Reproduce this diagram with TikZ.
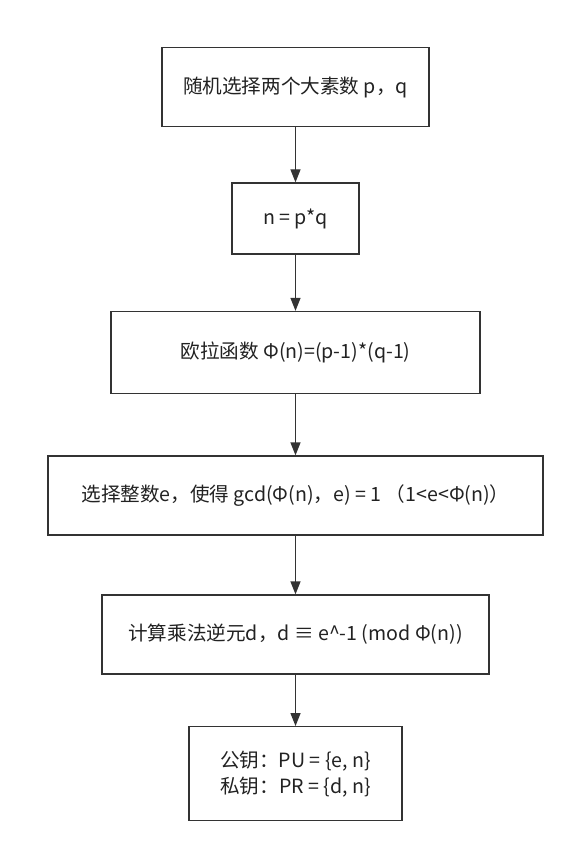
\documentclass[tikz,border=0pt]{standalone}
\usepackage{fontspec}
\usepackage{tikz}
\usetikzlibrary{arrows.meta}
\newfontfamily\cjk{Noto Sans CJK SC}
\definecolor{linegray}{HTML}{333333}
\definecolor{textgray}{HTML}{222222}

\begin{document}
\begin{tikzpicture}[x=1pt,y=-1pt]
\tikzset{stepbox/.style={draw=linegray, line width=1.3pt, fill=white, align=center,
  inner sep=0pt, text=textgray, font=\cjk\fontsize{19.6}{26}\selectfont},
  flow/.style={draw=linegray, line width=1.3pt, -{Triangle[length=13pt,width=10pt]}}}
\useasboundingbox (0,0) rectangle (575,853);
\node [stepbox, minimum width=267, minimum height=79] (primes) at (295.5,87.3) {随机选择两个大素数 p，q};
\node [stepbox, minimum width=127, minimum height=71] (modulus) at (295.5,218.5) {n = p*q};
\node [stepbox, minimum width=369, minimum height=82] (euler) at (295.5,352.5) {欧拉函数 Φ(n)=(p-1)*(q-1)};
\node [stepbox, minimum width=495, minimum height=79] (pubexp) at (295.5,495.5) {选择整数e，使得 gcd(Φ(n)，e) = 1 （1<e<Φ(n)）};
\node [stepbox, minimum width=387, minimum height=79] (privexp) at (295.5,634.5) {计算乘法逆元d，d ≡ e\textasciicircum-1 (mod Φ(n))};
\node [stepbox, minimum width=213, minimum height=94] (keys) at (295.5,773.7) {公钥：PU = \{e, n\}\\私钥：PR = \{d, n\}};
\draw [flow] (primes) -- (modulus);
\draw [flow] (modulus) -- (euler);
\draw [flow] (euler) -- (pubexp);
\draw [flow] (pubexp) -- (privexp);
\draw [flow] (privexp) -- (keys);
\end{tikzpicture}
\end{document}
